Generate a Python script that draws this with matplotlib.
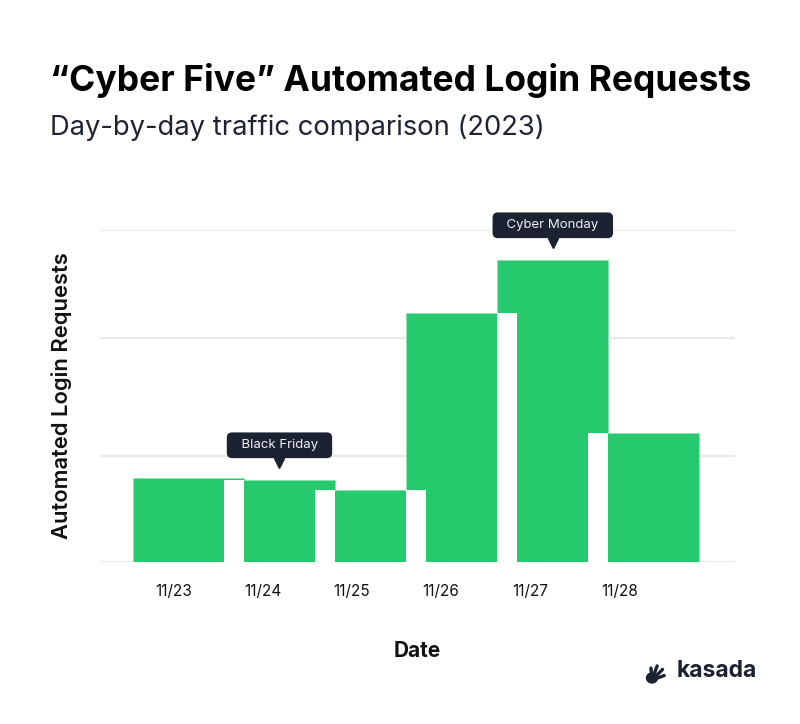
import numpy as np
import matplotlib.pyplot as plt
from matplotlib.patches import Circle

# values (relative units, no y scale shown)
dates = ['11/23', '11/24', '11/25', '11/26', '11/27', '11/28']
requests = [84, 82, 72, 249, 302, 129]
grid_levels = [0, 106, 224, 332]
callouts = {1: 'Black Friday', 4: 'Cyber Monday'}

green = '#26c96b'
navy = '#1c2232'

plt.rcParams['font.family'] = ['Inter', 'DejaVu Sans']

fig = plt.figure(figsize=(8, 7.24), dpi=100)
ax = fig.add_axes([0.125, 1 - 562 / 724, 0.79375, (562 - 230) / 724])

x = np.arange(len(dates))
h = np.array(requests)
width = 1.22
overlap = width - 1

for g in grid_levels:
    ax.axhline(g, color='#e9e9e9', lw=1.6, zorder=0)

ax.bar(x, h, width=width, color=green, edgecolor='#8fe3b3', linewidth=0.6, zorder=2)
# overlapping parts of neighbouring bars show up as white strips
ax.bar(x[:-1] + 0.5, np.minimum(h[:-1], h[1:]), width=overlap, color='white',
       linewidth=0, zorder=3)

for i, label in callouts.items():
    ax.annotate('  ' + label + '  ', (x[i], h[i]), xytext=(0, 25), textcoords='offset points',
                ha='center', va='center', fontsize=9.5, color='#eef0f4',
                bbox=dict(boxstyle='round,pad=0.52,rounding_size=0.4', fc=navy, ec='none'),
                annotation_clip=False, zorder=5)
    ax.plot([x[i]], [h[i] + 17], marker='v', ms=7, color=navy, mec=navy,
            clip_on=False, zorder=5)

ax.set_xlim(-0.97, 6.0)
ax.set_ylim(0, 332)
ax.set_xticks(x * 0.978 - 0.16)
ax.set_xticklabels(dates, fontsize=11, color='#111111')
ax.set_yticks([])
ax.tick_params(axis='x', length=0, pad=16)
for s in ax.spines.values():
    s.set_visible(False)

ax.set_xlabel('Date', fontsize=15, fontweight='bold', labelpad=30, color='#111111')
ax.set_ylabel('Automated Login Requests', fontsize=15.8, fontweight='semibold',
              labelpad=20, color='#111111')

fig.text(50 / 800, 1 - 80 / 724, '\u201cCyber Five\u201d Automated Login Requests',
         fontsize=25.5, fontweight='bold', va='center', ha='left', color='black')
fig.text(50 / 800, 1 - 128 / 724, 'Day-by-day traffic comparison (2023)',
         fontsize=19.7, va='center', ha='left', color='#1e2433')

# kasada logo (rough icon + wordmark)
fig.text(677 / 800, 1 - 671 / 724, 'kasada', fontsize=16.5, fontweight='bold',
         color=navy, ha='left', va='center')
cx, cy = 652, 680
for ang, ln in [(20, 13), (45, 15), (70, 15), (95, 12)]:
    a = np.deg2rad(ang)
    fig.add_artist(plt.Line2D([cx / 800, (cx + ln * np.cos(a)) / 800],
                              [1 - cy / 724, 1 - (cy - ln * np.sin(a)) / 724],
                              color=navy, lw=2.4, solid_capstyle='round'))
fig.add_artist(Circle((652 / 800, 1 - 678 / 724), 5.5 / 800, color=navy,
                      transform=fig.transFigure))
fig.add_artist(Circle((654 / 800, 1 - 677 / 724), 1.6 / 800, color='white',
                      transform=fig.transFigure))

fig.savefig('out.png', dpi=100, facecolor='white')
